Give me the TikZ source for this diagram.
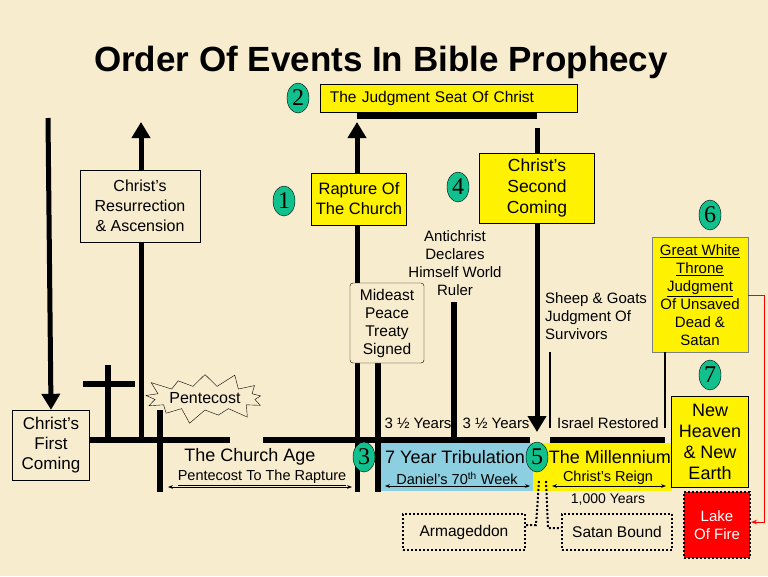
\documentclass[tikz,border=0pt]{standalone}
\usepackage{fontspec}
\setmainfont{Liberation Sans}
\newfontfamily\numfont{Liberation Serif}
\usetikzlibrary{shapes.symbols,shapes.geometric,arrows.meta}
\definecolor{bg}{HTML}{F8ECCE}
\definecolor{badge}{HTML}{12C08E}
\definecolor{tribblue}{HTML}{8CCFE0}
\tikzset{
  every node/.style={font=\fontsize{14}{16}\selectfont, align=center, inner sep=0pt},
  badgenode/.style={ellipse, draw=black, fill=badge, minimum width=22pt, minimum height=30pt, font=\numfont\fontsize{24}{24}\selectfont},
  ybox/.style={draw=black, thick, fill=yellow},
  pbox/.style={draw=black, fill=bg},
  bar/.style={line width=6pt},
  dotbox/.style={draw=black, line width=2pt, dotted},
  dbl/.style={{Stealth[length=5pt]}-{Stealth[length=5pt]}, line width=0.7pt},
  bigarrow/.style={line width=5pt, -{Triangle[length=16pt,width=18pt]}},
}
\begin{document}
\begin{tikzpicture}[x=1pt,y=-1pt]
\fill[bg] (0,0) rectangle (768,576);
\useasboundingbox (0,0) rectangle (768,576);
\node[font=\bfseries\fontsize{35}{35}\selectfont] (title) at (381,62) {Order Of Events In Bible Prophecy};
% judgment seat
\node[ybox, minimum width=257pt, minimum height=28pt, anchor=north west, font=\fontsize{15.5}{16}\selectfont, text width=250pt, align=left] (jseat) at (320,84) {\hspace{6pt}The Judgment Seat Of Christ};
\node[badgenode] (b2) at (298,98) {2};
\draw[bar] (357,116) -- (537,116);
% baseline
\coordinate (l1) at (90,440); \coordinate (l2) at (230,440);
\coordinate (l3) at (263,440); \coordinate (l4) at (530,440);
\coordinate (l5) at (550,440); \coordinate (l6) at (665,440);
\fill[tribblue] (378,443) rectangle (533,491);
\fill[yellow] (533,443) rectangle (672,491);
\draw[bar] (l1) -- (l2); \draw[bar] (l3) -- (l4); \draw[bar] (l5) -- (l6);
% first coming
\coordinate (fc) at (48,118);
\node[pbox, minimum width=77pt, minimum height=70pt, font=\fontsize{17}{20}\selectfont] (first) at (51,445) {Christ’s\\First\\Coming};
\draw[bigarrow] (fc) -- (first.north);
% resurrection
\coordinate (rs) at (141,440); \coordinate (re) at (141,122);
\draw[bigarrow] (rs) -- (re);
\node[pbox, minimum width=120pt, minimum height=72pt, font=\fontsize{16}{20}\selectfont] (res) at (140,206) {Christ’s\\Resurrection\\\& Ascension};
% cross
\draw[bar] (108,365) -- (108,440);
\draw[bar] (83,384) -- (135,384);
% pentecost
\draw[bar] (160,410) -- (160,492);
\node[starburst, draw=black, fill=bg, starburst points=13, starburst point height=16pt, minimum width=115pt, minimum height=56pt, font=\fontsize{16}{16}\selectfont] (pent) at (205,398) {Pentecost};
\draw[bar] (160,412) -- (160,440);
% church age
\node[font=\fontsize{18}{18}\selectfont] (church) at (250,457) {The Church Age};
\node[font=\fontsize{14.5}{15}\selectfont] (ptr) at (262,478) {\underline{Pentecost To The Rapture}};
\coordinate (pa) at (168,487); \coordinate (pb) at (352,487);
\draw[dbl] (pa) -- (pb);
% rapture
\coordinate (rb) at (357,492); \coordinate (rt) at (357,122);
\draw[bigarrow] (rb) -- (rt);
\node[ybox, minimum width=95pt, minimum height=52pt, font=\fontsize{16.5}{20}\selectfont] (rapt) at (359,199) {Rapture Of\\The Church};
\node[badgenode] (b1) at (284,201) {1};
% treaty
\draw[bar] (378,363) -- (378,492);
\node[draw=black, fill=bg, rounded corners=3pt, minimum width=74pt, minimum height=80pt, font=\fontsize{15.5}{18}\selectfont] (treaty) at (387,323) {Mideast\\Peace\\Treaty\\Signed};
% antichrist
\node[font=\fontsize{15}{18}\selectfont] (anti) at (455,263) {Antichrist\\Declares\\Himself World\\Ruler};
\draw[bar] (454,302) -- (454,440);
% second coming
\node[ybox, minimum width=115pt, minimum height=70pt, font=\fontsize{17.5}{21}\selectfont] (second) at (537,188) {Christ’s\\Second\\Coming};
\node[badgenode] (b4) at (458,187) {4};
\coordinate (st) at (537,128); \coordinate (sb) at (537,432);
\draw[line width=5pt] (st) -- (second.north);
\draw[bigarrow] (second.south) -- (sb);
% sheep
\node[anchor=north west, align=left, font=\fontsize{15}{18}\selectfont] (sheep) at (545,292) {Sheep \& Goats\\Judgment Of\\Survivors};
\draw[line width=2.5pt] (550,352) -- (550,428);
\node[font=\fontsize{15}{15}\selectfont] (y1) at (418,423) {3 ½ Years};
\node[font=\fontsize{15}{15}\selectfont] (y2) at (496,423) {3 ½ Years};
\node[font=\fontsize{15}{15}\selectfont] (isr) at (608,423) {Israel Restored};
% tribulation texts
\node[font=\fontsize{18}{18}\selectfont] (trib) at (455,457) {7 Year Tribulation};
\node[font=\fontsize{14.5}{15}\selectfont] (dan) at (457,479) {\underline{Daniel's 70\textsuperscript{th} Week}};
\coordinate (da) at (385,486); \coordinate (db) at (530,486);
\draw[dbl] (da) -- (db);
\node[font=\fontsize{18}{18}\selectfont] (mill) at (610,457) {The Millennium};
\node[font=\fontsize{14.5}{15}\selectfont] (reign) at (608,479) {\underline{Christ's Reign}};
\coordinate (ma) at (552,486); \coordinate (mb) at (666,486);
\draw[dbl] (ma) -- (mb);
\node (thou) at (608,499) {1,000 Years};
\node[badgenode] (b3) at (364,457) {3};
\node[badgenode] (b5) at (537,457) {5};
% dotted boxes
\node[dotbox, minimum width=122pt, minimum height=36pt, font=\fontsize{15.5}{16}\selectfont] (arma) at (464,532) {Armageddon};
\node[dotbox, minimum width=110pt, minimum height=36pt, font=\fontsize{15.5}{16}\selectfont] (satan) at (617,532) {Satan Bound};
\coordinate (d1) at (539,481); \coordinate (d2) at (546,481);
\draw[line width=2pt, dotted] (d1) -- (536,525) -- (arma.east|-0,525);
\draw[line width=2pt, dotted] (d2) -- (548,528) -- (satan.west|-0,528);
% great white throne
\node[ybox, draw=gray, minimum width=96pt, minimum height=115pt, font=\fontsize{15}{18}\selectfont] (gwt) at (700,295) {\underline{Great White}\\\underline{Throne}\\\underline{Judgment}\\Of Unsaved\\Dead \&\\Satan};
\node[badgenode] (b6) at (710,215) {6};
\draw[line width=2.5pt] (665,352) -- (665,428);
\node[badgenode] (b7) at (710,375) {7};
\node[ybox, minimum width=77pt, minimum height=91pt, font=\fontsize{18}{21}\selectfont] (nh) at (710,442) {New\\Heaven\\\& New\\Earth};
\node[fill=red, draw=black, line width=2pt, dotted, minimum width=66pt, minimum height=66pt, text=white, font=\fontsize{15}{18}\selectfont] (lake) at (717,525) {Lake\\Of Fire};
\draw[red, line width=1pt, -{Stealth[length=6pt]}] (gwt.east|-0,295) -- (764,295) -- (764,522) -- (lake.east|-0,522);
\end{tikzpicture}
\end{document}
